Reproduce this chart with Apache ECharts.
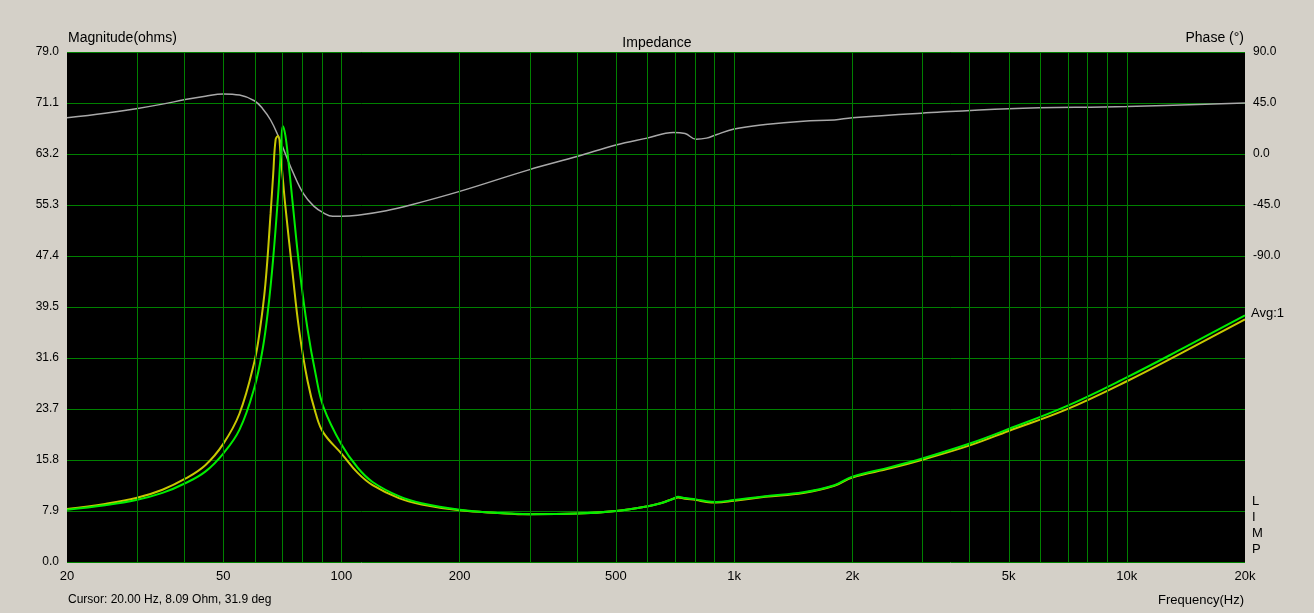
<!DOCTYPE html>
<html><head><meta charset="utf-8">
<script src="https://cdn.jsdelivr.net/npm/echarts@6/dist/echarts.min.js"></script>
<style>html,body{margin:0;padding:0;background:#d4d0c8}#c{width:1314px;height:613px}</style>
</head><body><div id="c"></div>
<script>
const freqTickLabels = [20,50,100,200,500,1000,2000,5000,10000,20000];
const magTicks = [0,7.9,15.8,23.7,31.6,39.5,47.4,55.3,63.2,71.1,79.0];
const gridFreqs = [30,40,50,60,70,80,90,100,200,300,400,500,600,700,800,900,1000,2000,3000,4000,5000,6000,7000,8000,9000,10000];

const greenF = [20,25,30,35,40,45,50,55,60,63,65,67,69,70,71,72,73,75,78,82,86,90,100,110,120,140,160,200,250,300,400,500,600,650,700,720,750,800,850,900,1000,1200,1500,1800,2000,2500,3000,4000,5000,7000,10000,14000,20000];
const greenV = [8.1,8.8,9.6,10.7,12.2,14.0,16.8,20.5,27,33,39,47,57,63,67.5,66,63,56,46,36,29,24,18.2,14.6,12.4,10.2,9.1,8.1,7.6,7.4,7.5,7.9,8.6,9.1,9.8,10.1,9.9,9.7,9.4,9.3,9.6,10.2,10.8,11.9,13.2,14.7,16.0,18.4,20.6,24.1,28.6,33.2,38.2];
const yellowF = [20,25,30,35,40,45,50,55,60,62,64,66,67,68,69,70,72,75,78,82,86,90,100,110,120,140,160,200,250,300,400,500,600,650,700,720,750,800,850,900,1000,1200,1500,1800,2000,2500,3000,4000,5000,7000,10000,14000,20000];
const yellowV = [8.2,9.0,9.9,11.2,12.9,15.0,18.3,23,31,36,43,54,60,65.5,66,63,55,45,36,28,23,20,16.8,13.8,11.9,9.9,8.9,8.0,7.6,7.4,7.5,7.9,8.6,9.1,9.8,10.0,9.8,9.6,9.3,9.2,9.5,10.1,10.7,11.8,13.1,14.5,15.8,18.1,20.3,23.6,28.0,32.6,37.6];
const phaseF = [20,25,30,35,40,45,50,55,60,63,66,69,72,75,80,85,90,95,100,110,130,150,200,300,400,500,600,700,750,800,850,900,1000,1200,1500,1800,2000,3000,5000,10000,20000];
const phaseV = [31.9,36,40,44,48,51,53,52,47,40,30,16,0,-15,-35,-46,-52,-55,-55,-54,-50,-45,-33,-14,-2,8,14,19,18,13,14,17,22,26,29,30,32,36,40,42,45];

const L = Math.log10;
const toPts = (f,v)=>f.map((x,i)=>[L(x),v[i]]);
const phaseToMag = p => 63.2 + p/45*7.9;
const fmtF = f => f>=1000 ? (f/1000)+'k' : String(f);

const chart = echarts.init(document.getElementById('c'));
chart.setOption({
  backgroundColor:'#d4d0c8',
  animation:false,
  textStyle:{fontFamily:'Liberation Sans, Arial, sans-serif'},
  grid:{left:67,right:69,top:52,bottom:51,backgroundColor:'#000',show:true,borderWidth:0},
  title:[
    {text:'Impedance',left:'center',top:31,textStyle:{fontSize:14,fontWeight:'normal',color:'#000'}},
  ],
  graphic:[
    {type:'text',left:68,top:31,style:{text:'Magnitude(ohms)',fontSize:14,fill:'#000'}},
    {type:'text',right:70,top:31,style:{text:'Phase (°)',fontSize:14,fill:'#000'}},
    {type:'text',left:68,top:594,style:{text:'Cursor: 20.00 Hz, 8.09 Ohm, 31.9 deg',fontSize:12,fill:'#000'}},
    {type:'text',right:70,top:594,style:{text:'Frequency(Hz)',fontSize:13,fill:'#000'}},
    {type:'text',left:1251,top:307,style:{text:'Avg:1',fontSize:13,fill:'#000'}},
    {type:'text',left:1252,top:493,style:{text:'L\nI\nM\nP',fontSize:13,lineHeight:16,fill:'#000'}}
  ],
  xAxis:{type:'value',min:L(20),max:L(20000),
    axisLine:{show:false},splitLine:{show:false},
    axisTick:{show:false},
    axisLabel:{customValues:freqTickLabels.map(L),formatter:v=>fmtF(Math.round(Math.pow(10,v))),color:'#000',fontSize:13,margin:8}},
  yAxis:[
    {type:'value',min:0,max:79,interval:7.9,
     axisLine:{show:false},axisTick:{show:false},
     splitLine:{show:true,lineStyle:{color:'#008000',width:1}},
     axisLabel:{color:'#000',fontSize:12,formatter:v=>v.toFixed(1)}},
    {type:'value',min:-360,max:90,interval:45,position:'right',
     axisLine:{show:false},axisTick:{show:false},splitLine:{show:false},
     axisLabel:{color:'#000',fontSize:12,formatter:v=>v>=-90?v.toFixed(1):''}}
  ],
  series:[
    {type:'line',data:[],markLine:{silent:true,symbol:'none',label:{show:false},
      lineStyle:{color:'#008000',width:1,type:'solid'},
      data:gridFreqs.map(f=>({xAxis:L(f)}))}},
    {type:'line',yAxisIndex:1,data:toPts(phaseF,phaseV),smooth:0.4,showSymbol:false,lineStyle:{color:'#a8a8a8',width:1.5}},
    {type:'line',data:toPts(yellowF,yellowV),smooth:0.4,showSymbol:false,lineStyle:{color:'#c8c800',width:2}},
    {type:'line',data:toPts(greenF,greenV),smooth:0.4,showSymbol:false,lineStyle:{color:'#00ee00',width:2}}
  ]
});
</script></body></html>
